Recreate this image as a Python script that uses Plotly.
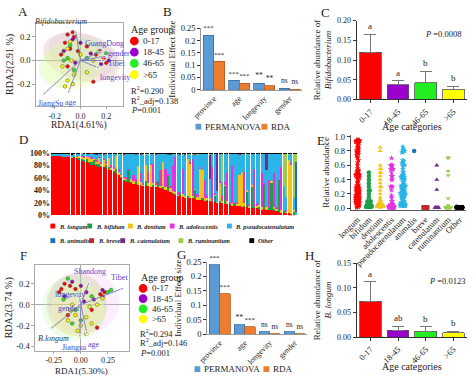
import numpy as np
import plotly.graph_objects as go

W, H = 474, 380
SERIF = "Liberation Serif"

# ======================= DATA =======================
age_labels = ["0-17", "18-45", "46-65", ">65"]
age_colors = ["#ff0000", "#9900cc", "#22ee22", "#ffff00"]

# ---- Panel A: RDA site scores ----
a_red_x = [-0.10, -0.05, -0.12, -0.08, -0.15, 0.05, 0.12, 0.18, 0.20, 0.10, -0.02, -0.10, 0.15, -0.06]
a_red_y = [0.22, 0.20, 0.15, 0.10, 0.05, 0.12, 0.05, 0.02, -0.02, -0.18, 0.08, -0.05, 0.08, 0.24]
a_pur_x = [-0.06, -0.13, 0.00, 0.08, 0.16, -0.04, 0.22]
a_pur_y = [0.18, 0.08, 0.15, 0.06, -0.03, -0.02, 0.00]
a_grn_x = [-0.08, -0.10, 0.05, 0.14, -0.05, 0.20, -0.13]
a_grn_y = [0.13, 0.02, 0.02, 0.07, -0.08, 0.06, 0.00]
a_yel_x = [-0.10, -0.07, -0.14, -0.05, -0.10, -0.12, -0.06, 0.00, -0.08, 0.10, 0.05]
a_yel_y = [0.10, 0.00, -0.05, -0.12, -0.17, -0.22, -0.20, 0.05, 0.16, 0.00, -0.10]
a_vec_names = ["Bifidobacterium", "GuangDong", "gender", "Tibet", "longevity", "JiangSu", "age"]
a_vec_x = [-0.04, 0.17, 0.21, 0.20, 0.16, -0.30, -0.10]
a_vec_y = [0.27, 0.08, 0.04, 0.00, -0.07, -0.30, -0.29]
a_stats = ["R<sup>2</sup>=0.290", "R<sup>2</sup>_adj=0.138", "<i>P</i>=0.001"]

# ---- Panel B / G: effect sizes ----
factors = ["province", "age", "longevity", "gender"]
b_permanova = [0.222, 0.038, 0.027, 0.005]
b_rda = [0.115, 0.027, 0.016, 0.001]
b_perm_sig = ["***", "***", "**", "ns"]
b_rda_sig = ["***", "***", "**", "ns"]
g_permanova = [0.240, 0.033, 0.008, 0.008]
g_rda = [0.140, 0.025, 0.002, 0.002]
g_perm_sig = ["***", "**", "ns", "ns"]
g_rda_sig = ["***", "***", "ns", "ns"]

# ---- Panel C / H: abundance by age ----
c_mean = [0.120, 0.037, 0.042, 0.026]
c_err = [0.045, 0.011, 0.030, 0.008]
c_letters = ["a", "a", "b", "b"]
h_mean = [0.073, 0.014, 0.012, 0.009]
h_err = [0.039, 0.008, 0.009, 0.003]
h_letters = ["a", "ab", "b", "b"]

# ---- Panel D: per-sample species composition (%) ----
species = ["B. longum", "B. bifidum", "B. dentium", "B. adolescentis", "B. pseudocatenulatum",
           "B. animalis", "B. breve", "B. catenulatum", "B. ruminantium", "Other"]
species_short = ["longum", "bifidum", "dentium", "adolescentis", "pseudocatenulatum",
                 "animalis", "breve", "catenulatum", "ruminantium", "Other"]
sp_colors = ["#ff0000", "#1f9e4a", "#f6c21a", "#e233e0", "#2bb4e6",
             "#1f6fb8", "#c0282d", "#6e2e96", "#9acd4c", "#000000"]
d_longum = [95, 95, 95, 95, 94, 94, 94, 94, 93, 93,
            92, 90, 88, 86, 85, 84, 82, 81, 80, 79,
            78, 77, 76, 74, 72, 70, 67, 64, 60, 56,
            54, 53, 52, 51, 50, 49, 48, 48, 47, 47,
            46, 46, 45, 45, 44, 43, 41, 39, 37, 35,
            33, 32, 31, 30, 29, 28, 28, 27, 26, 26,
            25, 25, 24, 24, 23, 22, 21, 20, 20, 19,
            18, 18, 17, 16, 16, 15, 15, 14, 14, 13,
            13, 12, 12, 11, 11, 10, 10, 9, 9, 8,
            8, 7, 6, 5, 5, 4, 3, 2, 1, 0]
d_bifidum = [0, 0, 0, 0, 0, 0, 0, 0, 0, 0,
             0, 2, 3, 4, 6, 2, 3, 8, 2, 3,
             2, 0, 5, 3, 0, 2, 8, 0, 3, 2,
             3, 20, 2, 0, 5, 0, 2, 0, 8, 0,
             0, 4, 0, 10, 0, 3, 0, 25, 0, 2,
             2, 0, 5, 0, 0, 3, 0, 0, 15, 0,
             0, 3, 0, 2, 0, 0, 10, 0, 3, 0,
             30, 0, 2, 0, 3, 0, 0, 0, 2, 25,
             0, 35, 2, 0, 3, 0, 40, 0, 2, 45,
             3, 0, 50, 0, 2, 0, 0, 0, 5, 0]
d_dentium = [0, 0, 0, 0, 0, 0, 0, 0, 1, 0,
             2, 3, 4, 3, 2, 8, 6, 2, 4, 10,
             3, 12, 2, 15, 4, 3, 20, 5, 2, 3,
             2, 0, 5, 4, 0, 30, 3, 2, 25, 5,
             35, 2, 5, 0, 3, 40, 4, 0, 8, 2,
             3, 2, 0, 5, 2, 60, 55, 4, 2, 3,
             50, 45, 3, 2, 5, 0, 3, 2, 30, 4,
             2, 5, 0, 3, 0, 4, 50, 55, 3, 2,
             3, 2, 0, 5, 2, 3, 0, 4, 0, 2,
             2, 4, 0, 3, 0, 2, 85, 80, 2, 0]
d_adolescentis = [0, 0, 0, 0, 0, 0, 0, 1, 0, 0,
                  0, 0, 1, 2, 0, 1, 3, 0, 2, 1,
                  2, 1, 3, 0, 4, 2, 0, 6, 2, 1,
                  2, 1, 0, 10, 3, 0, 15, 2, 0, 18,
                  2, 30, 3, 0, 25, 0, 30, 2, 2, 40,
                  55, 3, 2, 40, 0, 0, 3, 60, 0, 5,
                  3, 0, 30, 5, 0, 55, 2, 0, 2, 10,
                  3, 45, 2, 60, 0, 2, 0, 0, 50, 0,
                  2, 0, 60, 3, 0, 55, 2, 0, 45, 0,
                  55, 2, 0, 70, 0, 3, 0, 2, 0, 0]
d_pseudocatenulatum = [4, 4, 4, 4, 5, 5, 4, 4, 4, 5,
                       5, 4, 3, 4, 6, 4, 5, 8, 10, 6,
                       14, 8, 13, 7, 19, 22, 4, 20, 32, 36,
                       38, 25, 40, 34, 40, 20, 30, 46, 18, 28,
                       16, 17, 45, 44, 27, 13, 24, 32, 51, 19,
                       6, 62, 60, 23, 67, 8, 12, 7, 55, 64,
                       21, 26, 42, 66, 30, 22, 63, 17, 44, 20,
                       46, 31, 78, 20, 80, 78, 33, 30, 30, 58,
                       81, 50, 25, 80, 83, 31, 47, 60, 43, 44,
                       31, 86, 43, 21, 40, 20, 10, 15, 20, 5]
d_animalis = [0, 0, 0, 0, 0, 0, 0, 0, 0, 0,
              0, 0, 0, 0, 0, 0, 0, 0, 0, 0,
              0, 0, 0, 0, 0, 0, 0, 0, 0, 0,
              0, 0, 0, 0, 0, 0, 0, 0, 0, 0,
              0, 0, 0, 0, 0, 0, 0, 0, 0, 0,
              0, 0, 0, 0, 0, 0, 0, 0, 0, 0,
              0, 0, 0, 0, 0, 0, 0, 0, 0, 0,
              0, 0, 0, 0, 0, 0, 0, 0, 0, 0,
              0, 0, 0, 0, 0, 0, 0, 0, 0, 0,
              0, 0, 0, 0, 0, 0, 0, 0, 0, 80]
d_breve = [0, 0, 0, 0, 0, 0, 0, 0, 0, 0,
           0, 0, 0, 0, 0, 0, 1, 0, 0, 0,
           0, 1, 0, 0, 0, 0, 0, 0, 0, 1,
           0, 0, 0, 0, 1, 0, 0, 0, 0, 0,
           0, 0, 1, 0, 0, 0, 0, 0, 0, 0,
           0, 0, 0, 0, 0, 0, 0, 0, 0, 0,
           0, 0, 0, 0, 0, 0, 0, 0, 0, 0,
           0, 0, 0, 0, 0, 0, 1, 0, 0, 0,
           0, 0, 0, 0, 0, 0, 0, 0, 0, 0,
           0, 0, 0, 0, 0, 0, 0, 0, 0, 0]
d_catenulatum = [0, 0, 0, 0, 0, 0, 0, 0, 0, 0,
                 0, 0, 0, 0, 0, 0, 0, 0, 1, 0,
                 0, 0, 0, 0, 0, 0, 0, 0, 0, 0,
                 0, 0, 0, 0, 0, 0, 1, 0, 0, 0,
                 0, 0, 0, 0, 0, 0, 0, 1, 1, 0,
                 0, 0, 1, 0, 1, 0, 0, 0, 1, 0,
                 0, 0, 0, 0, 40, 0, 0, 60, 0, 0,
                 0, 0, 0, 0, 0, 0, 0, 0, 0, 0,
                 0, 0, 0, 0, 0, 0, 0, 26, 0, 0,
                 0, 0, 0, 0, 0, 0, 0, 0, 0, 0]
d_ruminantium = [0, 0, 0, 0, 0, 0, 1, 0, 0, 1,
                 0, 0, 1, 0, 0, 0, 0, 0, 0, 0,
                 0, 0, 0, 0, 0, 0, 0, 4, 0, 0,
                 0, 0, 0, 0, 0, 0, 0, 1, 1, 1,
                 0, 0, 0, 0, 0, 0, 0, 0, 0, 1,
                 0, 0, 0, 1, 0, 0, 1, 1, 0, 1,
                 0, 0, 0, 0, 1, 0, 0, 0, 0, 46,
                 0, 0, 0, 0, 0, 0, 0, 0, 0, 1,
                 0, 0, 0, 0, 0, 0, 0, 0, 0, 0,
                 0, 0, 0, 0, 52, 70, 1, 0, 71, 14]
d_other = [1, 1, 1, 1, 1, 1, 1, 1, 2, 1,
           1, 1, 0, 1, 1, 1, 0, 1, 1, 1,
           1, 1, 1, 1, 1, 1, 1, 1, 1, 1,
           1, 1, 1, 1, 1, 1, 1, 1, 1, 1,
           1, 1, 1, 1, 1, 1, 1, 1, 1, 1,
           1, 1, 1, 1, 1, 1, 1, 1, 1, 1,
           1, 1, 1, 1, 1, 1, 1, 1, 1, 1,
           1, 1, 1, 1, 1, 1, 1, 1, 1, 1,
           1, 1, 1, 1, 1, 1, 1, 1, 1, 1,
           1, 1, 1, 1, 1, 1, 1, 1, 1, 1]
d_all = [d_longum, d_bifidum, d_dentium, d_adolescentis, d_pseudocatenulatum,
         d_animalis, d_breve, d_catenulatum, d_ruminantium, d_other]
e_symbols = ["star", "circle", "triangle-up", "star", "star",
             "circle", "square", "triangle-up", "triangle-down", "circle"]

# ---- Panel F: RDA site scores (species level) ----
f_red_x = [-0.18, -0.20, -0.15, -0.10, 0.18, 0.22, 0.20, -0.12, 0.10, -0.05, 0.15]
f_red_y = [0.15, 0.12, 0.20, 0.18, 0.10, 0.12, 0.08, -0.10, -0.05, 0.15, -0.22]
f_pur_x = [-0.08, 0.00, 0.05, -0.15, 0.12, 0.20, 0.03]
f_pur_y = [0.22, 0.18, 0.12, 0.08, 0.05, 0.14, 0.03]
f_grn_x = [-0.12, -0.16, 0.25, 0.28, -0.05, 0.00, 0.10, -0.08]
f_grn_y = [0.25, 0.05, 0.12, 0.14, -0.05, -0.15, 0.08, -0.18]
f_yel_x = [-0.10, -0.05, 0.00, 0.05, -0.12, 0.08, -0.03, 0.10, 0.15, -0.08, 0.05, 0.20]
f_yel_y = [-0.05, -0.10, -0.20, -0.12, -0.15, -0.02, -0.25, -0.18, 0.00, 0.00, -0.28, 0.06]
f_vec_names = ["Shandong", "Tibet", "longevity", "gender", "B.longum", "Jiangsu", "age"]
f_vec_x = [0.08, 0.41, -0.02, -0.05, -0.29, -0.01, 0.06]
f_vec_y = [0.23, 0.165, 0.10, -0.01, -0.24, -0.33, -0.30]
f_stats = ["R<sup>2</sup>=0.294", "R<sup>2</sup>_adj=0.146", "<i>P</i>=0.001"]

# ======================= HELPERS =======================
def dx(x0, x1):
    return [x0 / W, x1 / W]


def dy(ytop, ybot):
    return [1 - ybot / H, 1 - ytop / H]


def fx(x):
    return x / W


def fy(y):
    return 1 - y / H


TICKF = dict(family=SERIF, size=8.5, color="#222")
annotations = []
shapes = []


def text(x, y, s, size=9, xanchor="left", yanchor="middle", color="#222", **kw):
    annotations.append(dict(x=fx(x), y=fy(y), xref="paper", yref="paper", text=s,
                            showarrow=False, xanchor=xanchor, yanchor=yanchor,
                            font=dict(family=SERIF, size=size, color=color), **kw))


def swatch(x, y, color, kind="circle", size=9):
    shapes.append(dict(type=kind, xref="paper", yref="paper",
                       x0=fx(x - size / 2), x1=fx(x + size / 2),
                       y0=fy(y + size / 2), y1=fy(y - size / 2),
                       fillcolor=color, line=dict(width=0)))


def ellipse(cx, cy, rx, ry, ang):
    t = np.linspace(0, 2 * np.pi, 80)
    a = np.deg2rad(ang)
    x = cx + rx * np.cos(t) * np.cos(a) - ry * np.sin(t) * np.sin(a)
    y = cy + rx * np.cos(t) * np.sin(a) + ry * np.sin(t) * np.cos(a)
    return x, y


fig = go.Figure()

# ======================= PANEL A / F (biplots) =======================
def biplot(xa, ya, groups, ells, vec_names, vec_x, vec_y, label_style, first_black):
    for (cx, cy, rx, ry, ang, col) in ells:
        ex, ey = ellipse(cx, cy, rx, ry, ang)
        fig.add_trace(go.Scatter(x=ex, y=ey, mode="lines", fill="toself", fillcolor=col,
                                 line=dict(width=0), hoverinfo="skip", showlegend=False,
                                 xaxis=xa, yaxis=ya))
    for (gx, gy), col in zip(groups, age_colors):
        fig.add_trace(go.Scatter(x=gx, y=gy, mode="markers", showlegend=False,
                                 marker=dict(size=3.6, color=col, line=dict(width=0.5, color="#444")),
                                 xaxis=xa, yaxis=ya))
    xr = "x" + xa[1:]
    yr = "y" + ya[1:]
    for i, (nm, vx, vy) in enumerate(zip(vec_names, vec_x, vec_y)):
        black = (i == first_black)
        lc = "#777777" if black else "#7a7ac8"
        fig.add_trace(go.Scatter(x=[0, vx], y=[0, vy], mode="lines+markers", showlegend=False,
                                 line=dict(color=lc, width=0.9),
                                 marker=dict(symbol=["circle", "arrow"], size=[0, 5], color=lc,
                                             angleref="previous"),
                                 xaxis=xa, yaxis=ya, hoverinfo="skip"))
        xa_, ya_, xs, ys = label_style[i]
        annotations.append(dict(x=vx, y=vy, xref=xr, yref=yr, text=("<i>%s</i>" % nm) if black else nm,
                                showarrow=False, xanchor=xa_, yanchor=ya_, xshift=xs, yshift=ys,
                                font=dict(family=SERIF, size=8, color="#333" if black else "#4a4ad0")))


a_ells = [(0.01, 0.03, 0.31, 0.20, -18, "rgba(205,140,120,0.20)"),
          (0.02, 0.05, 0.28, 0.17, -22, "rgba(200,170,220,0.18)"),
          (-0.06, -0.02, 0.28, 0.19, 25, "rgba(170,250,150,0.22)"),
          (-0.06, -0.04, 0.24, 0.21, 10, "rgba(255,255,140,0.22)")]
a_label_style = [("center", "bottom", -14, 1), ("center", "bottom", 2, 1), ("left", "middle", -2, 2),
                 ("left", "middle", 0, -3), ("left", "top", -3, -2), ("left", "top", -6, -1),
                 ("left", "top", -5, -1)]
biplot("x", "y", [(a_red_x, a_red_y), (a_pur_x, a_pur_y), (a_grn_x, a_grn_y), (a_yel_x, a_yel_y)],
       a_ells, a_vec_names, a_vec_x, a_vec_y, a_label_style, 0)

f_ells = [(0.03, 0.02, 0.33, 0.30, 5, "rgba(240,170,240,0.20)"),
          (-0.04, 0.00, 0.28, 0.30, 0, "rgba(205,160,120,0.20)"),
          (-0.06, -0.03, 0.30, 0.31, 0, "rgba(170,250,150,0.20)"),
          (-0.03, -0.05, 0.25, 0.26, 0, "rgba(255,255,140,0.25)")]
f_label_style = [("center", "bottom", 0, 3), ("center", "bottom", -6, 3), ("center", "middle", -9, 0),
                 ("center", "middle", -6, -3), ("center", "top", 4, -2), ("center", "top", -6, -2),
                 ("center", "top", 7, -2)]
biplot("x6", "y6", [(f_red_x, f_red_y), (f_pur_x, f_pur_y), (f_grn_x, f_grn_y), (f_yel_x, f_yel_y)],
       f_ells, f_vec_names, f_vec_x, f_vec_y, f_label_style, 4)

# ======================= PANEL B / G (effect sizes) =======================
def effect_bars(xa, ya, perm, rda, ps, rs):
    pos = np.arange(len(factors))
    fig.add_trace(go.Bar(x=pos - 0.21, y=perm, width=0.42, marker=dict(color="#5b9bd5", line=dict(color="#3a6ea5", width=0.8)),
                         text=ps, textposition="outside", cliponaxis=False,
                         textfont=dict(family=SERIF, size=7.5, color="#222"), showlegend=False,
                         xaxis=xa, yaxis=ya))
    fig.add_trace(go.Bar(x=pos + 0.21, y=rda, width=0.42, marker=dict(color="#ed7d31", line=dict(color="#b65a1c", width=0.8)),
                         text=rs, textposition="outside", cliponaxis=False,
                         textfont=dict(family=SERIF, size=7.5, color="#222"), showlegend=False,
                         xaxis=xa, yaxis=ya))


effect_bars("x2", "y2", b_permanova, b_rda, b_perm_sig, b_rda_sig)
effect_bars("x7", "y7", g_permanova, g_rda, g_perm_sig, g_rda_sig)

# ======================= PANEL C / H (age bars) =======================
def age_bars(xa, ya, mean, err, letters):
    pos = np.arange(len(age_labels))
    fig.add_trace(go.Bar(x=pos, y=mean, width=0.78,
                         marker=dict(color=age_colors, line=dict(color="#555", width=0.8)),
                         error_y=dict(type="data", array=err, arrayminus=[0] * len(err), symmetric=False,
                                      color="#777", thickness=1, width=6),
                         showlegend=False, xaxis=xa, yaxis=ya))
    for p, m, e, l in zip(pos, mean, err, letters):
        annotations.append(dict(x=p, y=m + e, xref="x" + xa[1:], yref="y" + ya[1:], text=l, showarrow=False,
                                yanchor="bottom", yshift=1, font=dict(family=SERIF, size=9, color="#222")))


age_bars("x3", "y3", c_mean, c_err, c_letters)
age_bars("x8", "y8", h_mean, h_err, h_letters)

# ======================= PANEL D (stacked composition) =======================
samples = np.arange(len(d_longum))
for vals, nm, col in zip(d_all, species, sp_colors):
    fig.add_trace(go.Bar(x=samples, y=vals, name=nm, marker=dict(color=col, line=dict(width=0)),
                         showlegend=False, xaxis="x4", yaxis="y4"))

# ======================= PANEL E (per-species abundances) =======================
swarm_pattern = [0, 1, -1, 2, -1.5, -2, 1.5, 3, -3, 0.5, -0.5, 2.5, -2.5]
for k, (vals, col, sym) in enumerate(zip(d_all, sp_colors, e_symbols)):
    v = np.array([a / 100 for a in vals if a > 0])
    counts = {}
    xs = []
    for a in v:
        b = int(a // 0.035)
        n = counts.get(b, 0)
        counts[b] = n + 1
        xs.append(k + 0.08 * swarm_pattern[n % len(swarm_pattern)])
    fig.add_trace(go.Scatter(x=xs, y=v, mode="markers", showlegend=False,
                             marker=dict(symbol=sym, size=4.5, color=col, line=dict(width=0)),
                             xaxis="x5", yaxis="y5"))

# ======================= AXES =======================
def base_axis(**kw):
    d = dict(showgrid=False, zeroline=False, showline=True, linecolor="#333", linewidth=1,
             ticks="outside", ticklen=3, tickwidth=1, tickcolor="#333", tickfont=TICKF)
    d.update(kw)
    return d


box = dict(mirror=True, linecolor="#aaaaaa", zeroline=True, zerolinecolor="#aaaaaa", zerolinewidth=1,
           tickcolor="#aaaaaa")
YT = dict(family=SERIF, size=9, color="#222")
layout = dict(
    xaxis=base_axis(domain=dx(23, 112), range=[-0.343, 0.328], tickvals=[-0.2, 0, 0.2],
                    ticktext=["-0.2", "0.0", "0.2"], ticklen=2,
                    tickfont=dict(family=SERIF, size=8, color="#222"), **box),
    yaxis=base_axis(domain=dy(18, 104), range=[-0.388, 0.322], tickvals=[-0.2, 0, 0.2],
                    ticktext=["-0.2", "0.0", "0.2"], title=dict(text="RDA2(2.91 %)", font=dict(family=SERIF, size=10, color="#222"), standoff=1), **box),
    xaxis2=base_axis(domain=dx(193, 297), range=[-0.5, 3.5], tickvals=list(range(4)), ticktext=factors,
                     tickangle=-45, ticks="", tickfont=dict(family=SERIF, size=8, color="#222"), anchor="y2",
                     linecolor="#999"),
    yaxis2=base_axis(domain=dy(24, 87), range=[0, 0.25], tickvals=[0, 0.05, 0.1, 0.15, 0.2, 0.25],
                     ticktext=["0", "0.05", "0.1", "0.15", "0.2", "0.25"], anchor="x2", linecolor="#999",
                     title=dict(text="Individual Effect size", font=YT, standoff=3)),
    xaxis3=base_axis(domain=dx(353, 467), range=[-0.5, 3.5], tickvals=list(range(4)), ticktext=age_labels,
                     tickangle=-45, anchor="y3"),
    yaxis3=base_axis(domain=dy(16, 97), range=[0, 0.2], tickvals=[0, 0.05, 0.1, 0.15, 0.2], tickformat=".2f",
                     anchor="x3", tickfont=dict(family=SERIF, size=8, color="#222"),
                     title=dict(text="Relative abundance of<br><i>Bifidobacterium</i>", font=YT, standoff=3)),
    xaxis4=dict(domain=dx(38, 292), range=[-0.5, 99.5], showticklabels=False, showline=False, ticks="",
                showgrid=False, zeroline=False, anchor="y4"),
    yaxis4=dict(domain=dy(152, 216), range=[0, 100], tickvals=[0, 20, 40, 60, 80, 100],
                ticktext=["0%", "20%", "40%", "60%", "80%", "100%"], showline=False, showgrid=False,
                zeroline=False, ticks="", anchor="x4",
                tickfont=dict(family=SERIF, size=8, color="#222", weight="bold")),
    xaxis5=base_axis(domain=dx(347, 466), range=[-0.6, 9.6], tickvals=list(range(10)), ticktext=species_short,
                     tickangle=-45, ticks="", anchor="y5", linecolor="#555"),
    yaxis5=base_axis(domain=dy(133, 211), range=[-0.03, 1.03], tickvals=[0, 0.2, 0.4, 0.6, 0.8, 1.0],
                     tickformat=".1f", anchor="x5", linecolor="#555",
                     title=dict(text="Relative abundance", font=YT, standoff=3)),
    xaxis6=base_axis(domain=dx(22, 118), range=[-0.42, 0.44], tickvals=[-0.25, 0, 0.25],
                     ticktext=["-0.25", "0.00", "0.25"], anchor="y6", ticklen=2,
                     tickfont=dict(family=SERIF, size=8, color="#222"), **box),
    yaxis6=base_axis(domain=dy(267, 355), range=[-0.44, 0.38], tickvals=[-0.4, -0.2, 0, 0.2],
                     ticktext=["-0.4", "-0.2", "0.0", "0.2"], anchor="x6",
                     title=dict(text="RDA2(3.74 %)", font=dict(family=SERIF, size=10, color="#222"), standoff=1), **box),
    xaxis7=base_axis(domain=dx(199, 302), range=[-0.5, 3.5], tickvals=list(range(4)), ticktext=factors,
                     tickangle=-45, ticks="", anchor="y7", linecolor="#999",
                     tickfont=dict(family=SERIF, size=8, color="#222")),
    yaxis7=base_axis(domain=dy(264, 338), range=[0, 0.25], tickvals=[0, 0.05, 0.1, 0.15, 0.2, 0.25],
                     ticktext=["0", "0.05", "0.1", "0.15", "0.2", "0.25"], anchor="x7", linecolor="#999",
                     title=dict(text="Individual Effect size", font=YT, standoff=3)),
    xaxis8=base_axis(domain=dx(353, 467), range=[-0.5, 3.5], tickvals=list(range(4)), ticktext=age_labels,
                     tickangle=-45, anchor="y8"),
    yaxis8=base_axis(domain=dy(265, 341), range=[0, 0.15], tickvals=[0, 0.05, 0.1, 0.15], tickformat=".2f",
                     anchor="x8", tickfont=dict(family=SERIF, size=8, color="#222"),
                     title=dict(text="Relative abundance of<br><i>B. longum</i>", font=YT, standoff=3)),
)

# ======================= TEXT / LEGENDS =======================
# panel letters
for lt, x, y in [("A", 9, 7), ("B", 158, 7), ("C", 321, 8), ("D", 10, 138), ("E", 316, 139),
                 ("F", 10, 257), ("G", 173, 256), ("H", 305, 257)]:
    text(x, y, lt, size=13, xanchor="center")

# x-axis titles
text(67, 123.5, "RDA1(4.61%)", size=9.5, xanchor="center")
text(70, 375.5, "RDA1(5.30%)", size=9, xanchor="center")
text(410, 125, "Age categories", size=10, xanchor="center")
text(410, 371, "Age categories", size=10, xanchor="center")

# Age group legends (A and F)
text(119, 25, "Age group", size=10)
for i, (lab, col) in enumerate(zip(age_labels, age_colors)):
    swatch(124, 37 + 11.5 * i, col, "circle", 9)
    text(131, 37 + 11.5 * i, lab, size=9)
for i, s in enumerate(a_stats):
    text(118, 88 + 10 * i, s, size=8.5)

text(129, 280, "Age group", size=10)
for i, (lab, col) in enumerate(zip(age_labels, age_colors)):
    swatch(133, 291 + 10.5 * i, col, "circle", 9)
    text(140, 291 + 10.5 * i, lab, size=9)
for i, s in enumerate(f_stats):
    text(128, 337 + 10 * i, s, size=8.5)

# B / G legends
for yy, x1, x2 in [(125, 190, 258), (374, 189, 260)]:
    swatch(x1, yy, "#5b9bd5", "rect", 6)
    text(x1 + 5, yy, "PERMANOVA", size=9)
    swatch(x2, yy, "#ed7d31", "rect", 6)
    text(x2 + 5, yy, "RDA", size=9)

# P values
text(443, 30, "<i>P</i> =0.0008", size=8.5, xanchor="center")
text(447, 283, "<i>P</i> =0.0123", size=8.5, xanchor="center")

# D legend
row1_x = [40, 78, 120, 163, 222]
row2_x = [40, 80, 112, 172, 245]
for i in range(10):
    xx = row1_x[i] if i < 5 else row2_x[i - 5]
    yy = 227 if i < 5 else 242
    swatch(xx, yy, sp_colors[i], "rect", 5)
    text(xx + 4, yy, "<b><i>%s</i></b>" % species[i], size=6.3)

layout.update(dict(width=W, height=H, margin=dict(l=0, r=0, t=0, b=0),
                   paper_bgcolor="white", plot_bgcolor="rgba(0,0,0,0)",
                   barmode="stack", bargap=0.12, showlegend=False,
                   annotations=annotations, shapes=shapes,
                   font=dict(family=SERIF, size=9, color="#222")))
fig.update_layout(**layout)
fig.write_html("out.html", config={"displayModeBar": False},
               post_script="document.body.style.margin='0';document.body.style.overflow='hidden';")
